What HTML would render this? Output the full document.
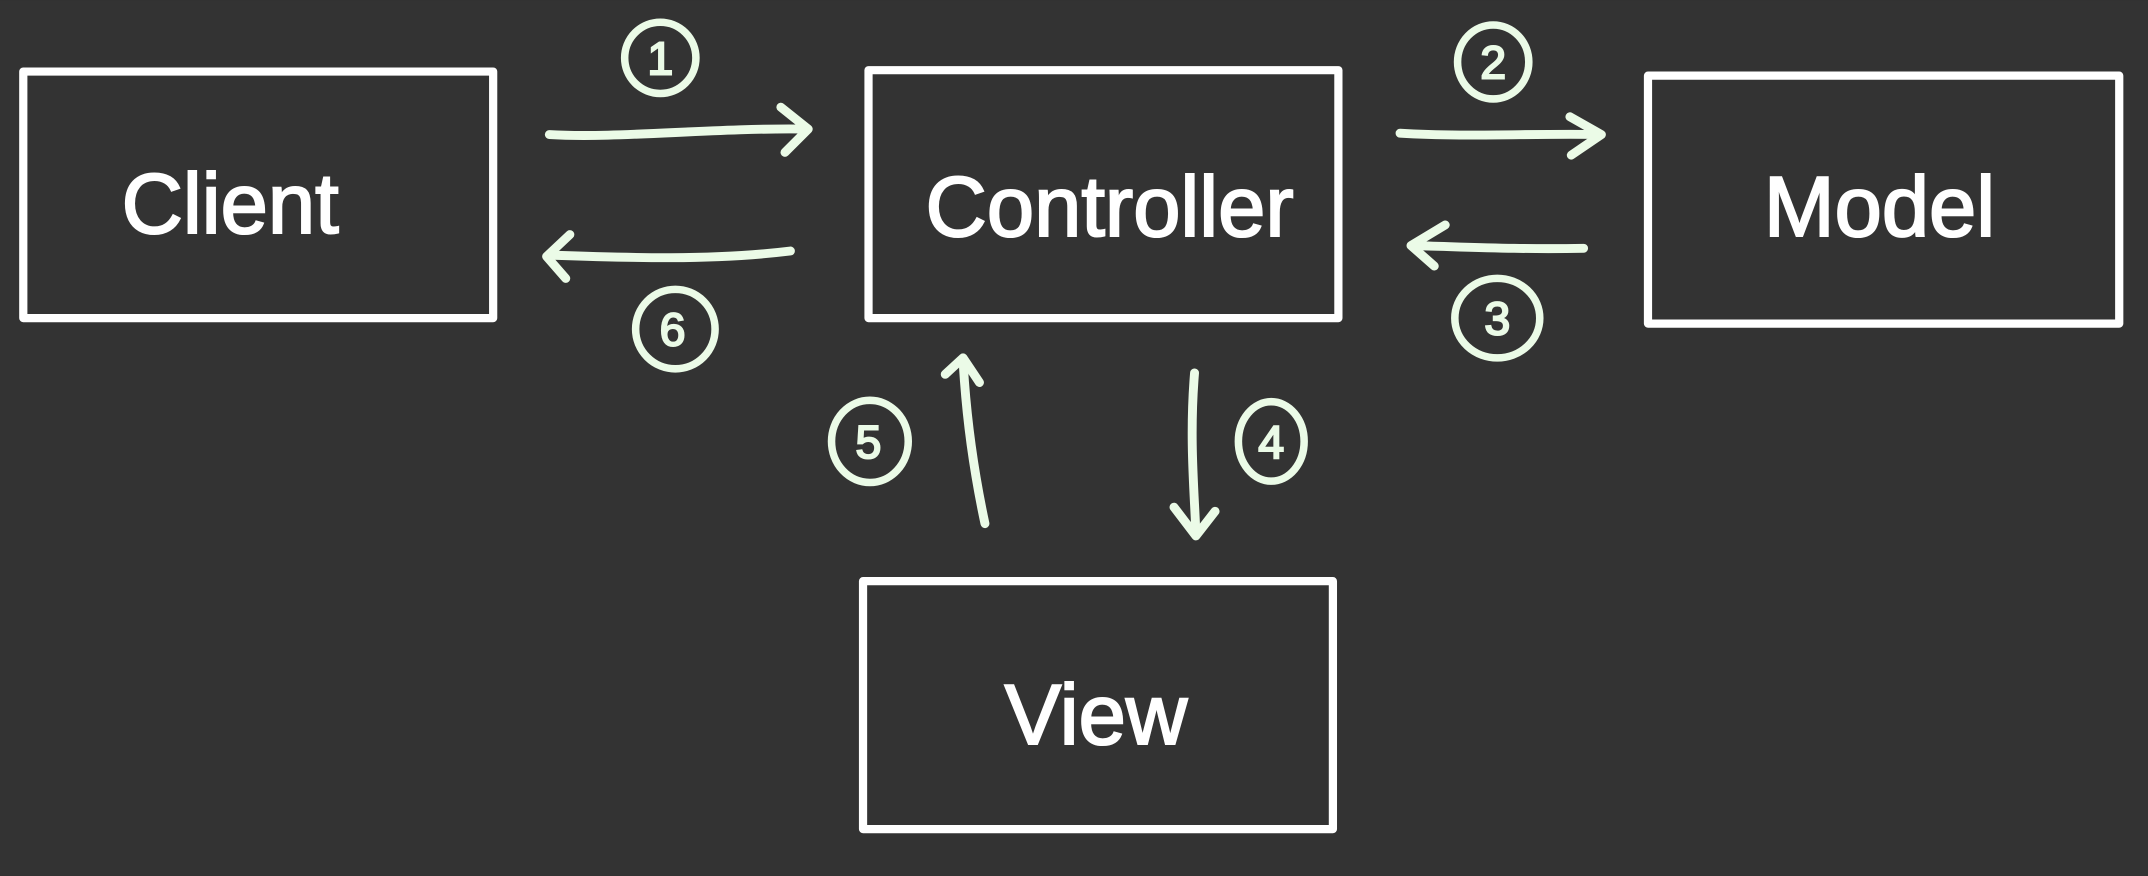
<!DOCTYPE html>
<html><head><style>
html,body{margin:0;padding:0;background:#333333;}
svg{display:block;}
</style></head><body>
<svg width="2148" height="876" viewBox="0 0 1568 639" xmlns="http://www.w3.org/2000/svg">
<rect width="1568" height="639" fill="#333333"/>
<g fill="none" stroke="#ffffff" stroke-width="6" stroke-linejoin="round">
<rect x="17" y="52" width="343" height="180"/>
<rect x="634" y="51" width="343" height="181"/>
<rect x="1203" y="55" width="344" height="181"/>
<rect x="630" y="424" width="343" height="181"/>
</g>
<g font-family="Liberation Sans, sans-serif" font-size="62" fill="#ffffff" stroke="#ffffff" stroke-width="1.5" text-anchor="middle">
<text x="168" y="170">Client</text>
<text x="810" y="172">Controller</text>
<text x="1372" y="172">Model</text>
<text x="800" y="543">View</text>
</g>
<g fill="none" stroke="#ebfbe7" stroke-width="6.5" stroke-linecap="round" stroke-linejoin="round">
<path d="M401,98 C450,101 520,93 588,94"/><path d="M570,78 L590,94 L573,111"/>
<path d="M577,183 C520,190 460,188 401,186"/><path d="M416,171 L399,187 L413,203"/>
<path d="M1022,97 C1070,100 1120,97 1168,98"/><path d="M1146,85 L1169,98 L1147,113"/>
<path d="M1156,181 C1110,182 1070,180 1031,179"/><path d="M1055,164 L1030,179 L1047,194"/>
<path d="M872,272 C868,320 872,360 873,390"/><path d="M857,370 L873,391 L887,373"/>
<path d="M719,382 C710,340 705,300 703,262"/><path d="M690,273 L703,261 L715,279"/>
</g>
<g fill="none" stroke="#ebfbe7" stroke-width="5.5">
<ellipse cx="482" cy="42" rx="26" ry="26"/>
<ellipse cx="493" cy="240" rx="29" ry="29"/>
<ellipse cx="1090" cy="45" rx="26" ry="27"/>
<ellipse cx="1093" cy="232" rx="31" ry="29"/>
<ellipse cx="928" cy="322" rx="24" ry="29"/>
<ellipse cx="635" cy="322" rx="28" ry="30"/>
</g>
<g font-family="Liberation Sans, sans-serif" font-size="34" fill="#ebfbe7" stroke="#ebfbe7" stroke-width="1.5" text-anchor="middle">
<text x="482" y="54">1</text>
<text x="491" y="252">6</text>
<text x="1090" y="57">2</text>
<text x="1093" y="244">3</text>
<text x="928" y="334">4</text>
<text x="634" y="334">5</text>
</g>
</svg>
</body></html>
